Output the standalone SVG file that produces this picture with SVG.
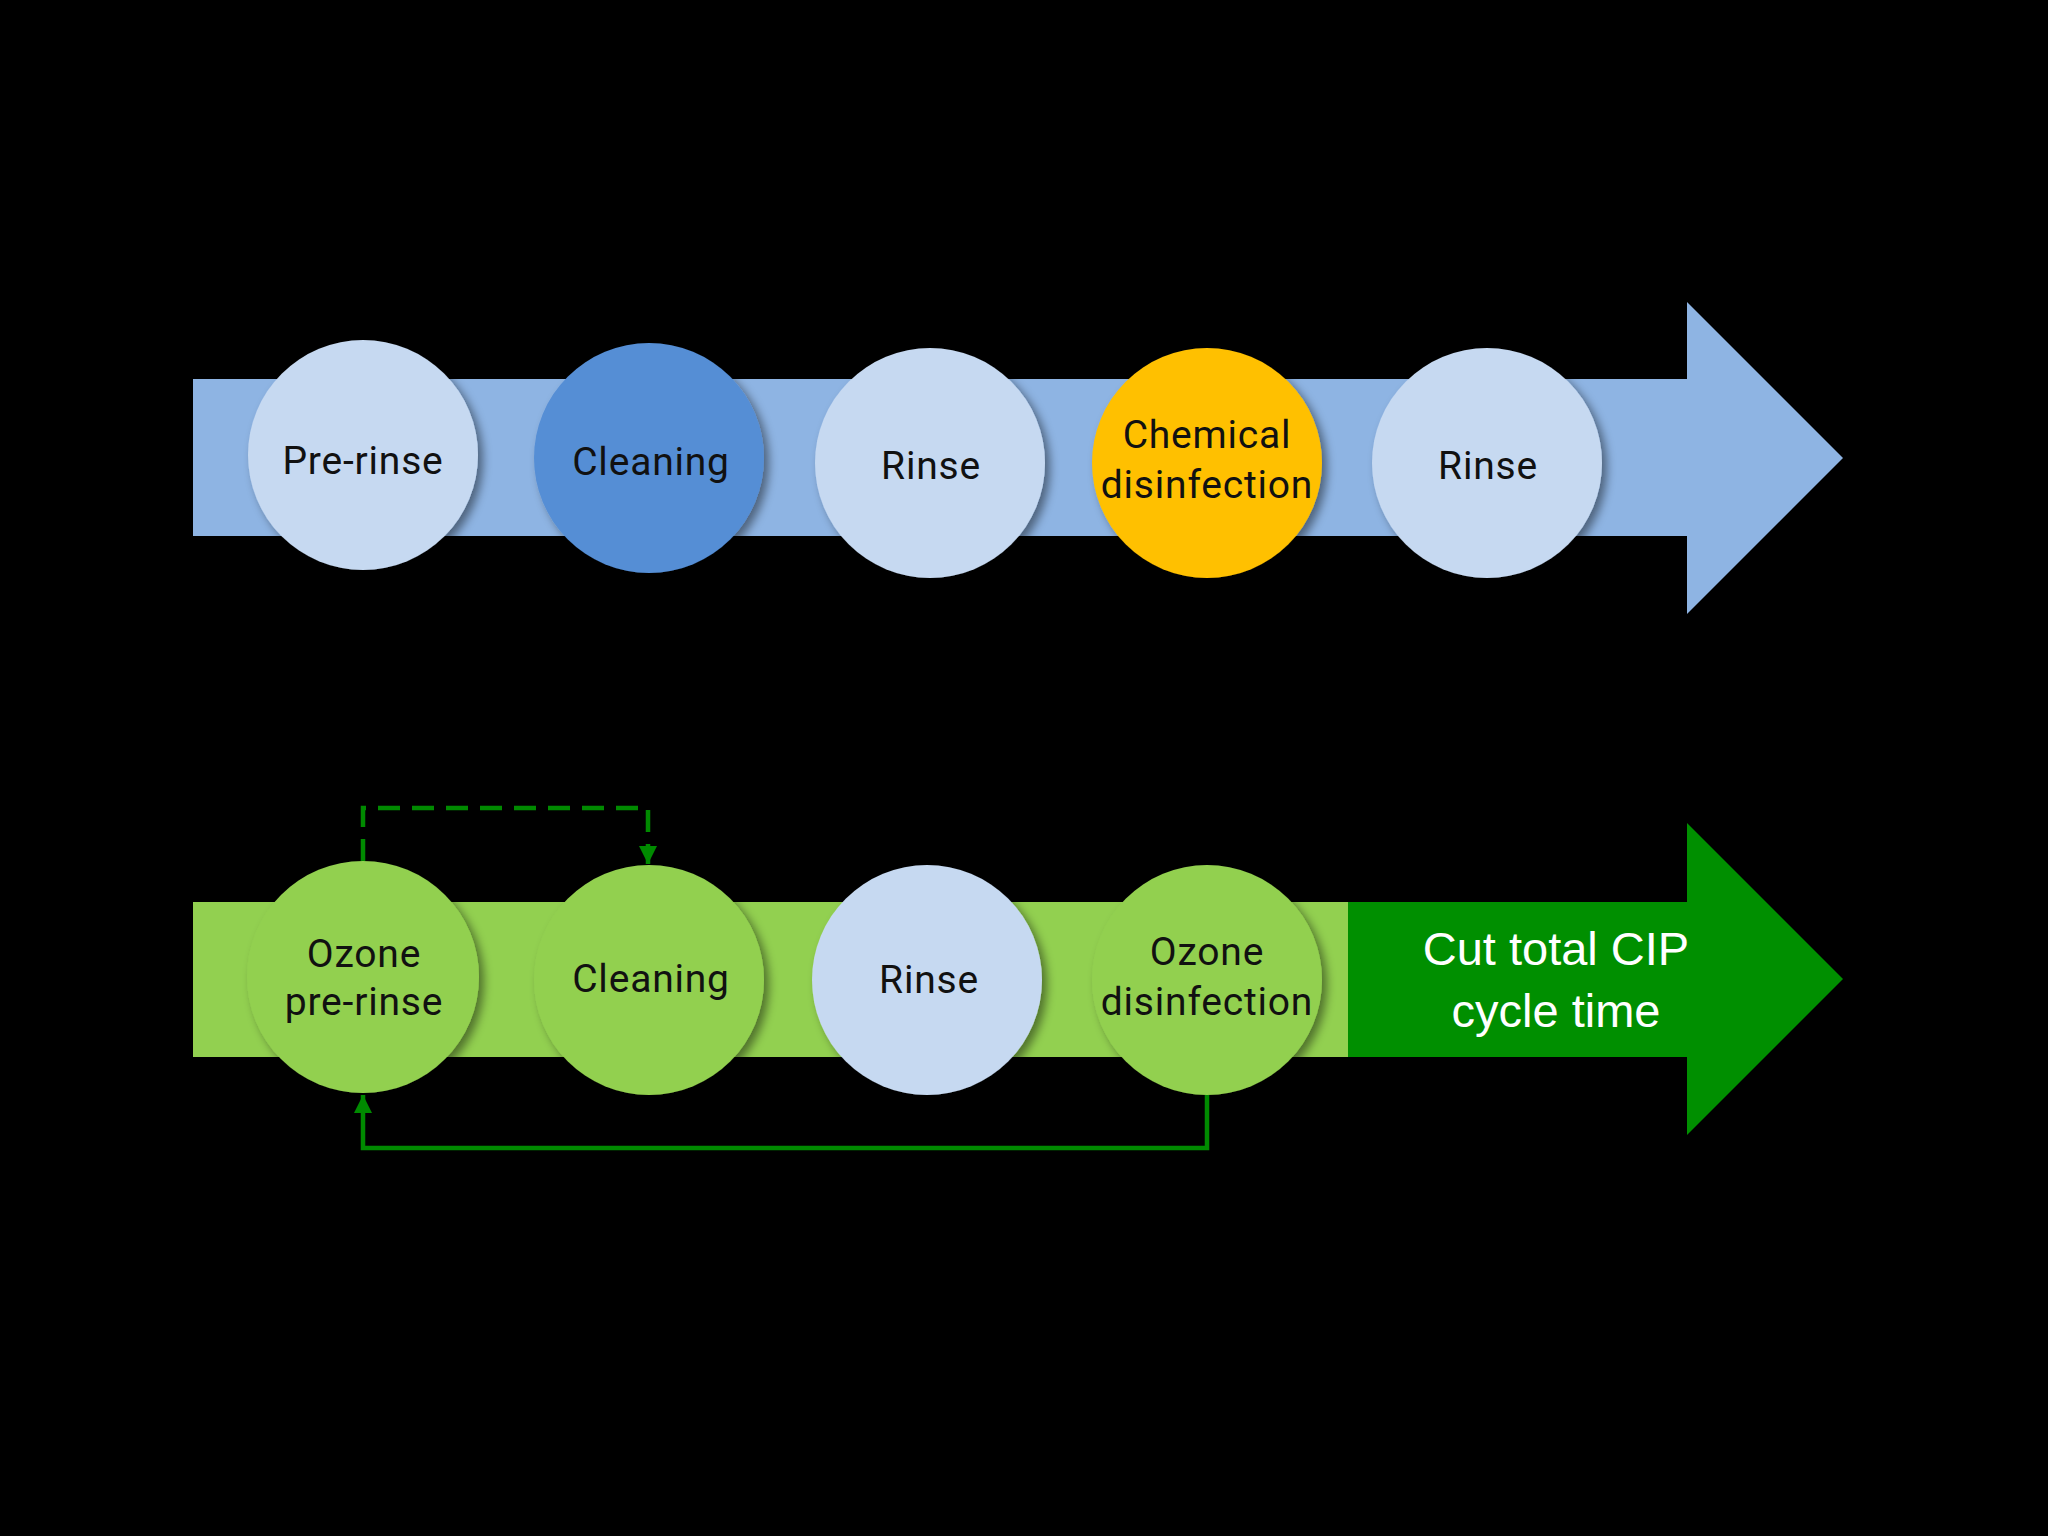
<svg xmlns="http://www.w3.org/2000/svg" width="2048" height="1536" viewBox="0 0 2048 1536">
<defs>
<filter id="sh" x="-20%" y="-20%" width="150%" height="150%">
<feDropShadow dx="5" dy="5" stdDeviation="5" flood-color="#000" flood-opacity="0.45"/>
</filter>
<marker id="ah" viewBox="0 0 10 10" refX="10" refY="5" markerWidth="4" markerHeight="4" orient="auto" markerUnits="strokeWidth">
<path d="M0,0 L10,5 L0,10 Z" fill="#008A00"/>
</marker>
</defs>
<style>
.lbl{font-family:Roboto,"Liberation Sans",sans-serif;font-size:39px;fill:#111;text-anchor:middle;letter-spacing:0.8px}
.light{fill:#C6D9F1}
.green{fill:#92D050}
.conn{fill:none;stroke:#008A00;stroke-width:4.5}
.big{font-family:"Liberation Sans",Arial,sans-serif;font-size:47px;fill:#fff;text-anchor:middle}
</style>
<rect x="0" y="0" width="2048" height="1536" fill="#000"/>

<g id="band-top">
<path d="M193,379 L1687,379 L1687,302 L1843,458 L1687,614 L1687,536 L193,536 Z" fill="#8EB4E3"/>
</g>
<g id="band-bottom">
<rect x="193" y="902" width="1160" height="155" fill="#92D050"/>
<path d="M1348,902 L1687,902 L1687,823 L1843,979 L1687,1135 L1687,1057 L1348,1057 Z" fill="#008F00"/>
<text class="big" x="1556" y="965">Cut total CIP</text>
<text class="big" x="1556" y="1027">cycle time</text>
</g>

<g id="n-prerinse">
<circle cx="363" cy="455" r="115" class="light" filter="url(#sh)"/>
<text class="lbl" x="363" y="474">Pre-rinse</text>
</g>
<g id="n-cleaning">
<circle cx="649" cy="458" r="115" fill="#558ED5" filter="url(#sh)"/>
<text class="lbl" x="651" y="475">Cleaning</text>
</g>
<g id="n-rinse1">
<circle cx="930" cy="463" r="115" class="light" filter="url(#sh)"/>
<text class="lbl" x="931" y="479">Rinse</text>
</g>
<g id="n-chem">
<circle cx="1207" cy="463" r="115" fill="#FFC000" filter="url(#sh)"/>
<text class="lbl" x="1207" y="448">Chemical</text>
<text class="lbl" x="1207" y="498">disinfection</text>
</g>
<g id="n-rinse2">
<circle cx="1487" cy="463" r="115" class="light" filter="url(#sh)"/>
<text class="lbl" x="1488" y="479">Rinse</text>
</g>

<g id="n-ozone-prerinse">
<circle cx="363" cy="977" r="116" class="green" filter="url(#sh)"/>
<text class="lbl" x="364" y="967">Ozone</text>
<text class="lbl" x="364" y="1015">pre-rinse</text>
</g>
<g id="n-cleaning2">
<circle cx="649" cy="980" r="115" class="green" filter="url(#sh)"/>
<text class="lbl" x="651" y="992">Cleaning</text>
</g>
<g id="n-rinse3">
<circle cx="927" cy="980" r="115" class="light" filter="url(#sh)"/>
<text class="lbl" x="929" y="993">Rinse</text>
</g>
<g id="n-ozone-dis">
<circle cx="1207" cy="980" r="115" class="green" filter="url(#sh)"/>
<text class="lbl" x="1207" y="965">Ozone</text>
<text class="lbl" x="1207" y="1015">disinfection</text>
</g>

<g id="connectors">
<path class="conn" d="M363,861 L363,808 L648,808 L648,864" stroke-dasharray="22,12" marker-end="url(#ah)"/>
<path class="conn" d="M1207,1095 L1207,1148 L363,1148 L363,1095" marker-end="url(#ah)"/>
</g>
</svg>
